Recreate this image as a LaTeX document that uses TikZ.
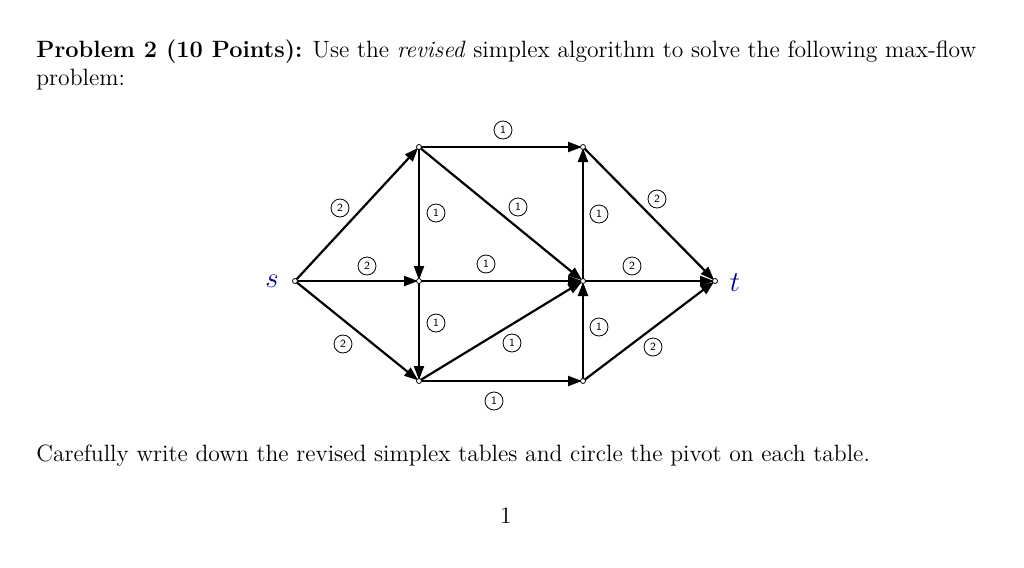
\documentclass[tikz,border=0pt]{standalone}
\usetikzlibrary{arrows.meta}
\begin{document}
\begin{tikzpicture}[x=0.5pt,y=-0.5pt,
  vtx/.style={circle,draw,fill=white,inner sep=0pt,minimum size=2.5pt,line width=0.4pt},
  edge/.style={line width=1.1pt,-{Triangle[length=7pt,width=5pt]},shorten >=0.5pt},
  capnum/.style={circle,draw,line width=0.4pt,inner sep=0pt,minimum size=9pt,font=\sffamily\fontsize{5.5}{6}\selectfont},
  txt/.style={anchor=west,inner sep=0pt,font=\fontsize{11.8}{14}\selectfont}]
\useasboundingbox (0,0) rectangle (1024,568);
\node[txt] (title) at (36,52) {\textbf{Problem 2 (10 Points):} Use the \textit{revised} simplex algorithm to solve the following max-flow};
\node[txt] (title2) at (36,80) {problem:};
\node[txt] (foot) at (36,456) {Carefully write down the revised simplex tables and circle the pivot on each table.};
\node[txt,anchor=center] (pg) at (506,516) {1};
\coordinate (s) at (295,281);
\coordinate (a) at (419,147);
\coordinate (b) at (419,281);
\coordinate (c) at (419,381);
\coordinate (d) at (583,147);
\coordinate (e) at (583,281);
\coordinate (f) at (583,381);
\coordinate (t) at (715,281);
\node[text=blue!60!black,font=\fontsize{14}{16}\selectfont] (sl) at (272,281) {$s$};
\node[text=blue!60!black,font=\fontsize{14}{16}\selectfont] (tl) at (735,283) {$t$};
\draw[edge] (s) -- (a);
\draw[edge] (s) -- (b);
\draw[edge] (s) -- (c);
\draw[edge] (a) -- (d);
\draw[edge] (a) -- (b);
\draw[edge] (a) -- (e);
\draw[edge] (b) -- (e);
\draw[edge] (b) -- (c);
\draw[edge] (c) -- (e);
\draw[edge] (c) -- (f);
\draw[edge] (e) -- (d);
\draw[edge] (f) -- (e);
\draw[edge] (d) -- (t);
\draw[edge] (e) -- (t);
\draw[edge] (f) -- (t);
\foreach \v in {s,a,b,c,d,e,f,t} \node[vtx] at (\v) {};
\node[capnum] (l1) at (340,208) {2};
\node[capnum] (l2) at (367,266) {2};
\node[capnum] (l3) at (343,344) {2};
\node[capnum] (l4) at (503,130) {1};
\node[capnum] (l5) at (436,213) {1};
\node[capnum] (l6) at (518,207) {1};
\node[capnum] (l7) at (486,264) {1};
\node[capnum] (l8) at (599,214) {1};
\node[capnum] (l9) at (657,199) {2};
\node[capnum] (l10) at (632,266) {2};
\node[capnum] (l11) at (436,323) {1};
\node[capnum] (l12) at (512,343) {1};
\node[capnum] (l13) at (599,327) {1};
\node[capnum] (l14) at (653,347) {2};
\node[capnum] (l15) at (494,401) {1};
\end{tikzpicture}
\end{document}
